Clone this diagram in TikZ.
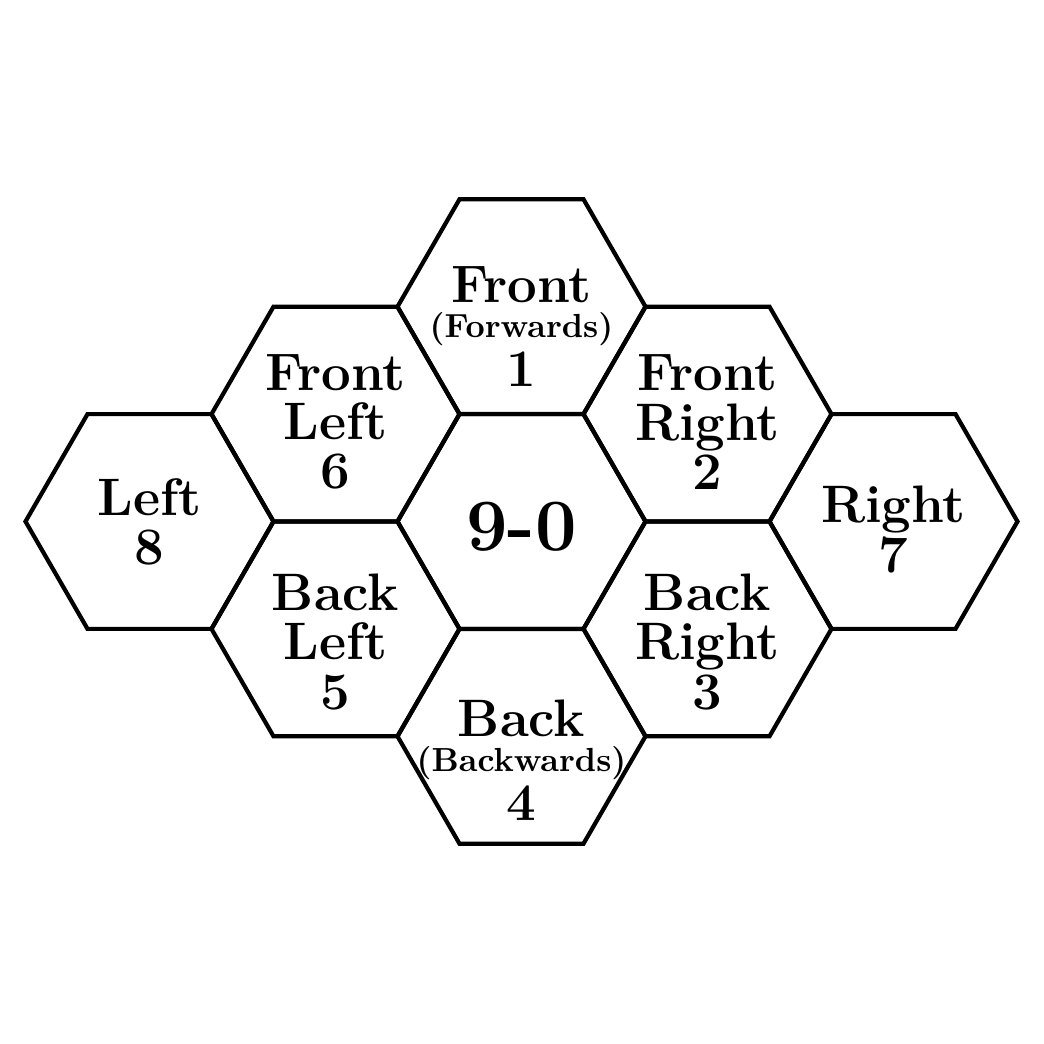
\documentclass[tikz,border=0pt]{standalone}
\usepackage{tikz}
\usetikzlibrary{positioning,shapes.geometric}

\begin{document}
\begin{tikzpicture}[
hexcell/.style={draw,line width=1.2pt,regular polygon,regular polygon sides=6,minimum size=2.48cm,inner sep=0pt,outer sep=0pt},
hexlabel/.style={align=center,inner sep=0pt,font=\fontsize{15}{14}\selectfont\bfseries}]
\useasboundingbox (0,0) rectangle (10.44,10.44);
\node[hexcell] (mid) at (5.215,5.225) {};
\node[hexcell] (fr)  at (5.215,7.373) {};
\node[hexcell] (bk)  at (5.215,3.077) {};
\node[hexcell] (fl)  at (3.355,6.299) {};
\node[hexcell] (frr) at (7.075,6.299) {};
\node[hexcell] (bl)  at (3.355,4.151) {};
\node[hexcell] (br)  at (7.075,4.151) {};
\node[hexcell] (lf)  at (1.495,5.225) {};
\node[hexcell] (rt)  at (8.935,5.225) {};
\node[hexlabel,font=\fontsize{21}{21}\selectfont\bfseries] (mid-t) at ([yshift=-0.05cm]mid.center) {9-0};
\node[hexlabel] (fr-t)  at ([yshift=-0.2cm]fr.center) {Front\\[-4pt]{\fontsize{9.5}{9}\selectfont(Forwards)}\\1};
\node[hexlabel] (bk-t)  at ([yshift=-0.24cm]bk.center) {Back\\[-4pt]{\fontsize{9.5}{9}\selectfont(Backwards)}\\4};
\node[hexlabel] (fl-t)  at ([yshift=-0.08cm]fl.center) {Front\\Left\\6};
\node[hexlabel] (frr-t) at ([yshift=-0.08cm]frr.center) {Front\\Right\\2};
\node[hexlabel] (bl-t)  at ([yshift=-0.13cm]bl.center) {Back\\Left\\5};
\node[hexlabel] (br-t)  at ([yshift=-0.13cm]br.center) {Back\\Right\\3};
\node[hexlabel] (lf-t)  at (lf.center) {Left\\8};
\node[hexlabel] (rt-t)  at ([yshift=-0.08cm]rt.center) {Right\\7};
\end{tikzpicture}
\end{document}
